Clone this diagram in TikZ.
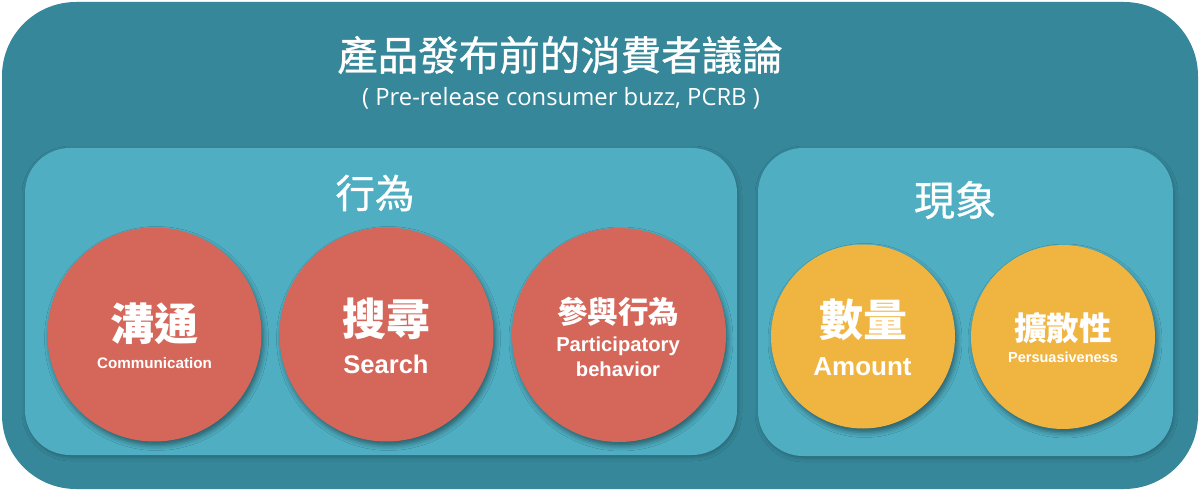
\documentclass[tikz,border=0pt]{standalone}
\usepackage{fontspec}
\setmainfont{Liberation Sans}
\newfontfamily\cjk{Noto Sans CJK TC}
\newfontfamily\cjkm{Noto Sans CJK TC}[FakeBold=0.8]
\newfontfamily\osans{Open Sans}
\usetikzlibrary{shadows.blur}
\definecolor{outerc}{HTML}{358799}
\definecolor{innerc}{HTML}{4FAEC2}
\definecolor{redc}{HTML}{D4675A}
\definecolor{yelc}{HTML}{F0B441}
\tikzset{
  panel/.style={fill=innerc, rounded corners=45pt,
    blur shadow={shadow xshift=1pt, shadow yshift=-2pt, shadow blur radius=4pt, shadow opacity=25}},
  bubble/.style={circle, inner sep=0pt, align=center, text=white,
    blur shadow={shadow xshift=2pt, shadow yshift=-4pt, shadow blur radius=5pt, shadow opacity=45}},
  redb/.style={bubble, fill=redc, minimum size=214pt},
  yelb/.style={bubble, fill=yelc, minimum size=184pt},
  lab/.style={text=white, inner sep=0pt, anchor=center},
}
\begin{document}
\begin{tikzpicture}[x=1pt,y=-1pt]
\useasboundingbox (0,0) rectangle (1200,492);
\fill[white] (0,0) rectangle (1200,492);
\fill[outerc, rounded corners=74pt] (2,2) rectangle (1198,489);
\node[lab, font=\cjkm\fontsize{40.5}{44}\selectfont] (title) at (560,55) {產品發布前的消費者議論};
\node[lab, font=\osans\fontsize{23.8}{28}\selectfont] (sub) at (561,98) {( Pre-release consumer buzz, PCRB )};
\path[panel] (25,148) rectangle (737,455);
\path[panel] (758,148) rectangle (1173,456);
\node[lab, font=\cjkm\fontsize{39.5}{43}\selectfont] (beh) at (375,193) {行為};
\node[lab, font=\cjkm\fontsize{41}{45}\selectfont] (phe) at (955,200) {現象};
\node[redb] (c1) at (154.5,334.5) {};
\node[redb] (c2) at (386.5,334.5) {};
\node[redb] (c3) at (619,335) {};
\node[yelb] (c4) at (863,336.5) {};
\node[yelb] (c5) at (1063,337) {};
\node[lab, font=\cjk\bfseries\fontsize{44}{48}\selectfont] (t1) at (154.5,324) {溝通};
\node[lab, font=\bfseries\fontsize{15.2}{18}\selectfont] (e1) at (154.5,363) {Communication};
\node[lab, font=\cjk\bfseries\fontsize{44}{48}\selectfont] (t2) at (386.5,319) {搜尋};
\node[lab, font=\bfseries\fontsize{25.5}{30}\selectfont] (e2) at (386,364) {Search};
\node[lab, font=\cjk\bfseries\fontsize{30.5}{34}\selectfont] (t3) at (618,312) {參與行為};
\node[lab, font=\bfseries\fontsize{20.2}{24.5}\selectfont, align=center] (e3) at (618,357) {Participatory\\behavior};
\node[lab, font=\cjk\bfseries\fontsize{44}{48}\selectfont] (t4) at (863,320) {數量};
\node[lab, font=\bfseries\fontsize{26}{30}\selectfont] (e4) at (862.5,367) {Amount};
\node[lab, font=\cjk\bfseries\fontsize{32.5}{36}\selectfont] (t5) at (1063,328) {擴散性};
\node[lab, font=\bfseries\fontsize{14.5}{17}\selectfont] (e5) at (1063,357) {Persuasiveness};
\end{tikzpicture}
\end{document}
